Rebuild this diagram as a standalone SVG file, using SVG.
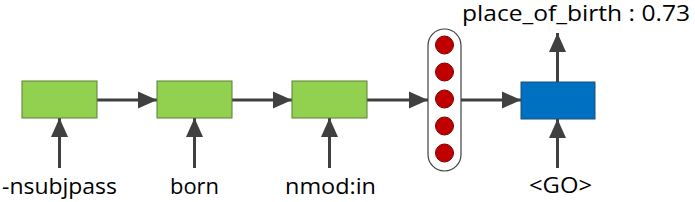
<svg xmlns="http://www.w3.org/2000/svg" width="695" height="202" viewBox="0 0 695 202">
<style>
.g{fill:#92D050;stroke:#5B7F33;stroke-width:1}
.b{fill:#0070C0;stroke:#1F4E79;stroke-width:1}
.c{fill:#C00000;stroke:#7F0000;stroke-width:1}
.cap{fill:#fff;stroke:#404040;stroke-width:1.2}
.a{stroke:#404040;stroke-width:3;fill:none;marker-end:url(#ah)}
text{font-family:"Open Sans","Liberation Sans",sans-serif;font-size:21px;fill:#000}
</style>
<defs>
<marker id="ah" markerUnits="userSpaceOnUse" markerWidth="20" markerHeight="18" refX="19" refY="9" orient="auto">
<path d="M0,0.5 L19,9 L0,17.5 Z" fill="#404040"/>
</marker>
</defs>
<rect width="695" height="202" fill="#fff"/>
<g id="connectors">
<line class="a" x1="97" y1="100" x2="157" y2="100"/>
<line class="a" x1="232" y1="100" x2="292" y2="100"/>
<line class="a" x1="367" y1="100" x2="428" y2="100"/>
<line class="a" x1="461" y1="100" x2="521" y2="100"/>
<line class="a" x1="59.5" y1="168" x2="59.5" y2="118"/>
<line class="a" x1="194.5" y1="168" x2="194.5" y2="118"/>
<line class="a" x1="329.5" y1="168" x2="329.5" y2="118"/>
<line class="a" x1="557.5" y1="168" x2="557.5" y2="119"/>
<line class="a" x1="557.5" y1="82" x2="557.5" y2="33"/>
</g>
<g id="node-nsubjpass"><rect class="g" x="22" y="81" width="75" height="37"/></g>
<g id="node-born"><rect class="g" x="157" y="81" width="75" height="37"/></g>
<g id="node-nmod"><rect class="g" x="292" y="81" width="75" height="37"/></g>
<g id="node-vector">
<rect class="cap" x="428" y="29" width="33" height="142" rx="16.5"/>
<circle class="c" cx="444.5" cy="45" r="9"/>
<circle class="c" cx="444.5" cy="72" r="9"/>
<circle class="c" cx="444.5" cy="99" r="9"/>
<circle class="c" cx="444.5" cy="126" r="9"/>
<circle class="c" cx="444.5" cy="153" r="9"/>
</g>
<g id="node-decoder"><rect class="b" x="521" y="82" width="74" height="37"/></g>
<g id="labels">
<text x="2" y="194" textLength="115" lengthAdjust="spacingAndGlyphs">-nsubjpass</text>
<text x="170" y="194" textLength="49" lengthAdjust="spacingAndGlyphs">born</text>
<text x="285" y="194" textLength="91" lengthAdjust="spacingAndGlyphs">nmod:in</text>
<text x="529" y="193" textLength="63" lengthAdjust="spacingAndGlyphs">&lt;GO&gt;</text>
<text x="462" y="21" font-size="22" textLength="228" lengthAdjust="spacingAndGlyphs">place_of_birth : 0.73</text>
</g>
</svg>
